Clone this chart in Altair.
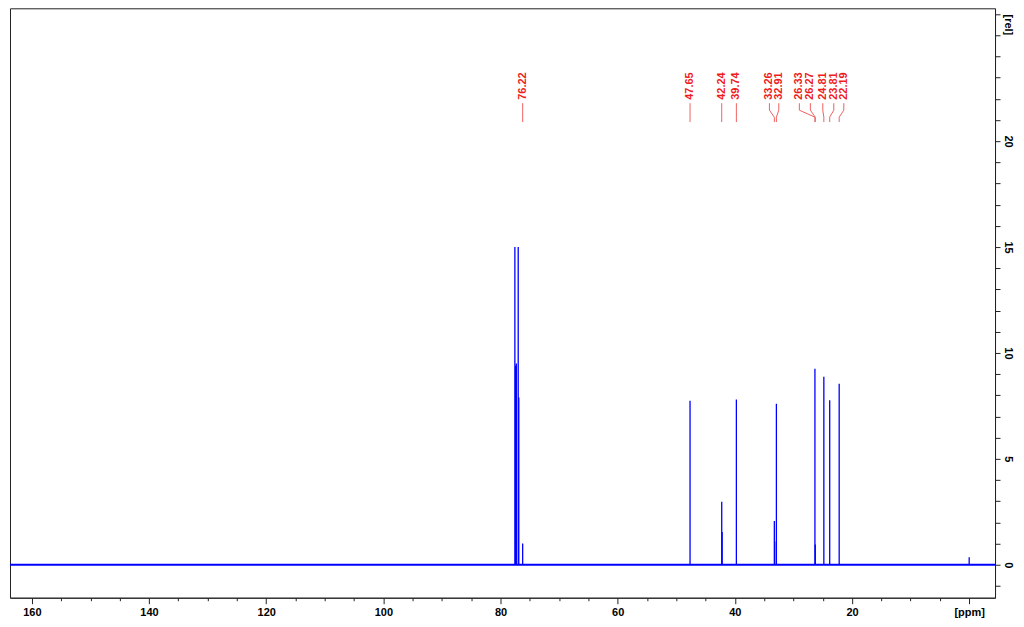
import altair as alt
import pandas as pd

# Spectrum lines (ppm, relative intensity)
peak_ppm = [77.55, 77.42, 77.30, 76.98, 76.88, 76.22, 47.65, 42.24, 42.17, 39.74,
            33.26, 33.20, 32.91, 26.33, 26.27, 24.81, 23.81, 22.19, 0.0]
peak_height = [15.0, 9.4, 9.5, 15.0, 7.9, 1.0, 7.74, 2.97, 1.55, 7.8,
               2.07, 1.1, 7.6, 9.25, 0.95, 8.87, 7.77, 8.54, 0.35]

# Peak annotations
label_text = ["76.22", "47.65", "42.24", "39.74", "33.26", "32.91",
              "26.33", "26.27", "24.81", "23.81", "22.19"]
label_peak = [76.22, 47.65, 42.24, 39.74, 33.26, 32.91,
              26.33, 26.27, 24.81, 23.81, 22.19]
label_pos = [76.22, 47.65, 42.24, 39.74, 34.10, 32.50,
             28.99, 27.11, 24.99, 23.11, 21.40]
label_y = 21.95
connector_y = [21.79, 21.46, 21.13, 20.90]

x_domain = [-4.41, 163.73]
y_domain = [-1.557, 26.27]
baseline = pd.DataFrame({"x": [x_domain[1]], "x2": [x_domain[0]], "y": [0.0]})

x_ticks = list(range(0, 165, 5))
y_ticks = list(range(-1, 27))

peaks = pd.DataFrame({"ppm": peak_ppm, "h": peak_height, "zero": [0.0] * len(peak_ppm)})
labels = pd.DataFrame({"txt": label_text, "pos": label_pos})

rows = []
for t, p, lp in zip(label_text, label_peak, label_pos):
    xs = [lp, lp, p, p]
    for k, (xx, yy) in enumerate(zip(xs, connector_y)):
        rows.append({"id": t, "step": k, "x": xx, "y": yy})
conn = pd.DataFrame(rows)

FONT = "Liberation Sans"

xscale = alt.Scale(domain=x_domain, reverse=True, nice=False, zero=False)
yscale = alt.Scale(domain=y_domain, nice=False, zero=False)

xaxis = alt.Axis(
    values=x_ticks,
    labelExpr="datum.value == 0 ? '[ppm]' : (datum.value % 20 == 0 ? datum.label : '')",
    title=None, grid=False,
    tickSize={"condition": {"test": "datum.value % 20 == 0", "value": 6}, "value": 3},
    tickColor="#222222", domainColor="#222222",
    labelFont=FONT, labelFontWeight="bold", labelFontSize=11, labelColor="black",
    labelPadding=3, labelOverlap=False, labelFlush=False, labelBound=False,
)
yaxis = alt.Axis(
    orient="right",
    values=y_ticks,
    labelExpr="datum.value == 26 ? '[rel]' : ((datum.value % 5 == 0 && datum.value >= 0 && datum.value <= 20) ? datum.label : '')",
    title=None, grid=False, tickSize=5, tickColor="#222222", domainColor="#222222",
    labelFont=FONT, labelFontWeight="bold", labelFontSize=11, labelColor="black",
    labelAngle=90, labelPadding=2, labelOverlap=False, labelFlush=False, labelBound=False,
    labelAlign={"condition": {"test": "datum.value == 26", "value": "left"}, "value": "center"},
    labelBaseline="bottom",
)

X = lambda f: alt.X(f, scale=xscale, axis=xaxis)
Y = lambda f: alt.Y(f, scale=yscale, axis=yaxis)

base_rule = alt.Chart(baseline).mark_rule(color="#0000ff", strokeWidth=2.2).encode(
    x=X("x:Q"), x2="x2:Q", y=Y("y:Q"),
)

peak_rules = alt.Chart(peaks).mark_rule(color="#0000ff", strokeWidth=1.3).encode(
    x=X("ppm:Q"), y=Y("zero:Q"), y2="h:Q",
)

conn_lines = alt.Chart(conn).mark_line(color="#f06060", strokeWidth=1).encode(
    x=X("x:Q"), y=Y("y:Q"), detail="id:N", order="step:Q",
)

text = alt.Chart(labels).mark_text(
    color="#ee1c1c", font=FONT, fontWeight="bold", fontSize=11,
    angle=270, align="left", baseline="middle",
).encode(
    x=X("pos:Q"),
    y=alt.Y(datum=label_y, scale=yscale, axis=yaxis),
    text="txt:N",
)

chart = alt.layer(base_rule, peak_rules, conn_lines, text).properties(
    width=986, height=590,
    padding={"left": 0, "top": 0, "right": 3, "bottom": 0},
).configure_view(
    stroke="#222222", strokeWidth=1
).configure_axis(labelOverlap=False)

chart.save("out.html", embed_options={"renderer": "svg", "actions": False})
